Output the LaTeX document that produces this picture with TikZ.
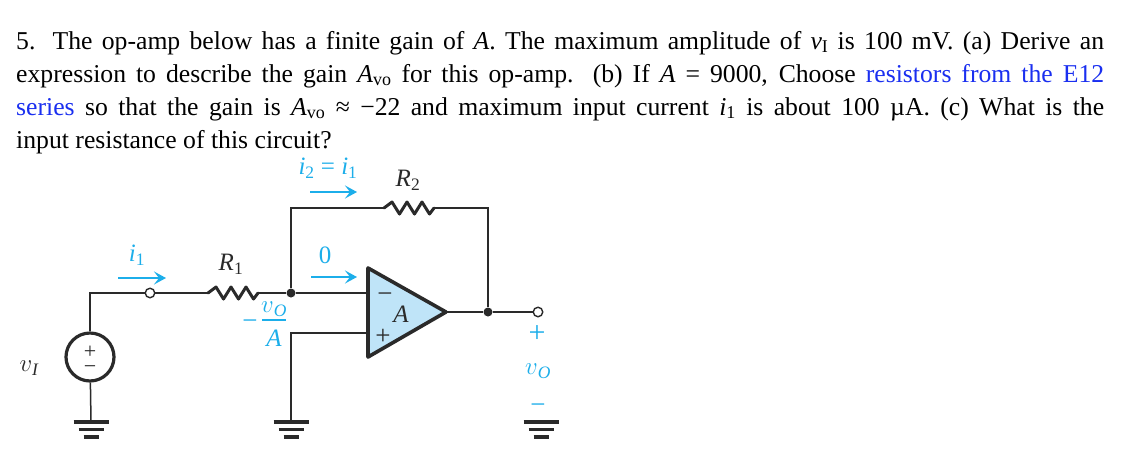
\documentclass[tikz,border=0pt]{standalone}
\usepackage{fontspec}
\setmainfont{Liberation Serif}
\usepackage{xcolor}
\usetikzlibrary{positioning}
\usetikzlibrary{arrows.meta}
\definecolor{labelblue}{HTML}{1CAEEA}
\definecolor{linkblue}{HTML}{1A2FF0}
\definecolor{ampfill}{HTML}{BFE4F8}
\definecolor{wirecol}{HTML}{2A2A2A}
\newcommand{\sz}[1]{\fontsize{#1}{#1}\selectfont}
\tikzset{gnd/.pic={
    \draw [line width=3.4pt,wirecol] (-17.5,0) -- (17.5,0);
    \draw [line width=3.4pt,wirecol] (-12.5,7.5) -- (12.5,7.5);
    \draw [line width=3.4pt,wirecol] (-7.5,15) -- (7.5,15);
  },
  zig/.pic={
    \draw [line width=3pt,wirecol,line join=round,line cap=round] (0,0) -- (8,-6) -- (15.5,6) -- (23,-6) -- (30.5,6) -- (38,-6) -- (45.5,6) -- (50,0);
  }}
\begin{document}
\begin{tikzpicture}[x=1pt,y=-1pt,
    textline/.style={anchor=base west,inner sep=0pt,font=\sz{25.7}},
    lab/.style={inner sep=0pt,text=labelblue,font=\sz{25}\itshape},
    tag/.style={inner sep=0pt,text=wirecol,font=\sz{25}\itshape},
    sign/.style={inner sep=0pt,text=wirecol,font=\sz{27}},
    wire/.style={line width=1.5pt,wirecol},
    dot/.style={circle,fill=wirecol,inner sep=0pt,minimum size=9pt},
    term/.style={circle,draw=wirecol,fill=white,line width=1.4pt,inner sep=0pt,minimum size=9.5pt},
    flow/.style={-{Stealth[length=12pt,width=13pt,inset=5pt]},line width=1.8pt,labelblue}]
  \useasboundingbox [fill=white] (0,0) rectangle (1124,472);
  % question text
  \node [textline] (l1) at (16,49) {\makebox[1088pt][s]{5. The op-amp below has a finite gain of \textit{A}. The maximum amplitude of \textit{v}\textsubscript{I} is 100 mV. (a) Derive an}};
  \node [textline] (l2) at (16,82) {\makebox[1088pt][s]{expression to describe the gain \textit{A}\textsubscript{vo} for this op-amp. (b) If \textit{A} = 9000, Choose \textcolor{linkblue}{resistors from the E12}}};
  \node [textline] (l3) at (16,115) {\makebox[1088pt][s]{\textcolor{linkblue}{series} so that the gain is \textit{A}\textsubscript{vo} ≈ −22 and maximum input current \textit{i}\textsubscript{1} is about 100 µA. (c) What is the}};
  \node [textline] (l4) at (16,148) {input resistance of this circuit?};
  % circuit points
  \coordinate (c1) at (90,293);
  \coordinate (g1) at (91,422);
  \coordinate (r1a) at (208,293);
  \coordinate (r1b) at (258,293);
  \coordinate (c2) at (291,208);
  \coordinate (r2a) at (384,208);
  \coordinate (r2b) at (434,208);
  \coordinate (c3) at (488,208);
  \coordinate (c4) at (291,333);
  \coordinate (g2) at (291,422);
  \coordinate (in1) at (368,293);
  \coordinate (in2) at (368,333);
  \coordinate (tip) at (446,312);
  \node [circle,draw=wirecol,fill=white,line width=3.2pt,inner sep=0pt,minimum size=48pt] (src) at (90,357) {};
  \node [term] (t1) at (150,293) {};
  \node [dot] (n1) at (291,293) {};
  \node [dot] (n2) at (488,312) {};
  \node [term] (t2) at (538,312) {};
  % op-amp
  \draw [line width=3.6pt,wirecol,fill=ampfill,line join=round] (368,268) -- (368,357) -- (tip) -- cycle;
  % wires
  \draw [wire] (src) -- (c1) -- (t1);
  \draw [wire] (t1) -- (r1a);
  \draw [wire] (r1b) -- (n1);
  \draw [wire] (n1) -- (in1);
  \draw [wire] (n1) -- (c2) -- (r2a);
  \draw [wire] (r2b) -- (c3) -- (n2);
  \draw [wire] (tip) -- (n2);
  \draw [wire] (n2) -- (t2);
  \draw [wire] (in2) -- (c4) -- (g2);
  \draw [wire] (src) -- (g1);
  \pic at (r1a) {zig};
  \pic at (r2a) {zig};
  \pic at (g1) {gnd};
  \pic at (g2) {gnd};
  \pic at (541,422) {gnd};
  % black labels
  \node [tag] (rl1) at (231,264) {R\textsubscript{\upshape 1}};
  \node [tag] (rl2) at (408,180) {R\textsubscript{\upshape 2}};
  \node [tag] (ga) at (401,314) {A};
  \node [tag] (vi) at (29,368) {$v$\textsubscript{I}};
  \node [sign] (am) at (385,298) {−};
  \node [sign] (ap) at (383,337) {+};
  \node [sign,align=center,font=\fontsize{22}{14.5}\selectfont] (pm) at (90,360) {+\\−};
  % blue labels
  \node [lab] (li1) at (137,255) {i\textsubscript{\upshape 1}};
  \node [lab] (li2) at (328,168) {i\textsubscript{\upshape 2} {\upshape =} i\textsubscript{\upshape 1}};
  \node [lab,font=\sz{25}] (lz) at (325,255) {0};
  \node [lab,font=\sz{27}] (om) at (250,325) {−};
  \node [lab] (fv) at (274,309) {$v$\textsubscript{O}};
  \node [lab] (fa) at (274,338) {A};
  \coordinate (fl) at (262,320);
  \coordinate (fr) at (286,320);
  \draw [line width=1.5pt,labelblue] (fl) -- (fr);
  \node [lab,font=\sz{30}] (op) at (537,334) {+};
  \node [lab] (vo) at (538,371) {$v$\textsubscript{O}};
  \node [lab,font=\sz{27}] (omn) at (538,409) {−};
  % current arrows
  \coordinate (a1) at (118,278);
  \coordinate (b1) at (166,278);
  \coordinate (a2) at (310,192);
  \coordinate (b2) at (357,192);
  \coordinate (a3) at (311,277);
  \coordinate (b3) at (357,277);
  \draw [flow] (a1) -- (b1);
  \draw [flow] (a2) -- (b2);
  \draw [flow] (a3) -- (b3);
\end{tikzpicture}
\end{document}
